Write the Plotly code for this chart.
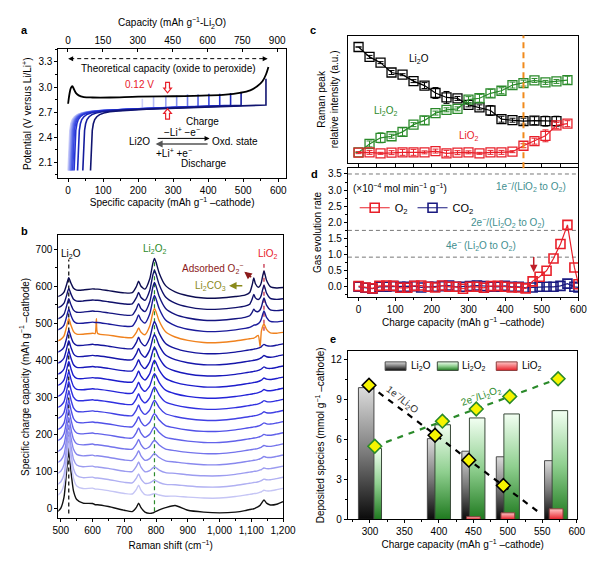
import plotly.graph_objects as go

W, H = 605, 562
FONT = "Liberation Sans, Arial, Helvetica, sans-serif"
RED = "#e8202a"
GREEN = "#2a8a2a"
TEAL = "#3f8f8f"
NAVY = "#1a1a80"

# ---------------- panel a : charge curves ----------------
a_black_cap = [0, 4, 8, 12, 16, 22, 30, 45, 70, 120, 200, 300, 400, 450, 490, 520, 540, 555, 565, 572]
a_black_v = [2.80, 2.92, 2.99, 3.01, 2.98, 2.93, 2.90, 2.88, 2.875, 2.875, 2.885, 2.89, 2.90, 2.91,
             2.93, 2.96, 3.01, 3.07, 3.15, 3.24]
a_start = [0, 2, 4, 6, 8, 10, 13, 17, 27, 42, 64]
a_end = [212, 244, 279, 310, 341, 371, 402, 433, 464, 494, 565]
a_end_v = [2.74, 2.75, 2.755, 2.76, 2.765, 2.77, 2.77, 2.775, 2.78, 2.78, 2.785]
a_top = [2.86, 2.88, 2.89, 2.90, 2.91, 2.91, 2.92, 2.92, 2.93, 2.94, 3.10]
a_knee_dx = [0, 1, 2, 3, 5, 8, 12, 18, 26, 38, 55, 80, 120, 160]
a_knee_v = [2.00, 2.12, 2.25, 2.36, 2.48, 2.56, 2.61, 2.645, 2.67, 2.69, 2.705, 2.715, 2.725, 2.735]
a_colors = ["#cdd0fa", "#b5bbf7", "#9ca4f4", "#8290f0", "#6a78ec", "#5060e6",
            "#3848e0", "#2534d4", "#1a26bc", "#141c9c", "#101470"]
a_gap_x = 284                     # capacity where the 0.12 V gap is marked
a_gap_arrow_down = [3.055, 2.93]  # tail, tip
a_gap_arrow_up = [2.615, 2.74]    # tail, tip

# ---------------- panel b : Raman spectra ----------------
b_cap = [0, 30, 60, 90, 120, 150, 180, 210, 240, 270, 300, 330, 360, 390, 420, 450, 480, 510, 540, 570]
b_colors = ["#111111", "#c5c5f5", "#b0b0f2", "#9c9cf0", "#8888ee", "#7474ec", "#6262ea", "#5050e8",
            "#4040e4", "#3030e0", "#2424d8", "#1c1ccc", "#1818bb", "#1616aa", "#14149c", "#f0821e",
            "#1a1a9a", "#141480", "#10106a", "#0c0c50"]
b_h_li2o = [160, 140, 125, 110, 98, 88, 80, 74, 69, 65, 62, 59, 57, 55, 53, 55, 50, 48, 46, 45]
b_h_745 = [28, 30, 30, 32, 32, 32, 33, 33, 34, 34, 35, 35, 35, 35, 35, 30, 35, 35, 35, 35]
b_h_li2o2 = [0, 10, 16, 22, 28, 34, 40, 46, 52, 58, 64, 70, 75, 80, 85, 90, 95, 100, 103, 105]
b_h_lio2 = [15, 6, 6, 6, 7, 7, 7, 8, 8, 8, 8, 9, 9, 10, 10, 35, 40, 45, 50, 58]
b_h_ads = [0, 0, 0, 0, 0, 0, 0, 0, 0, 0, 0, 0, 0, 0, 0, 0, 5, 18, 28, 42]
b_bg_common = {490: 0, 500: 2, 510: 4, 518: 6, 525: 8, 532: 10, 540: 12, 550: 14, 570: 18, 600: 22,
               608: 22, 612: 22, 616: 22, 650: 18, 700: 10, 725: 5, 738: 3, 745: 2, 752: 1, 765: 0,
               780: 0, 790: 0, 795: 0, 800: 0, 810: 0, 830: 0, 860: 2, 900: 0, 950: -2, 1000: -2,
               1050: 2, 1080: 6, 1095: 8, 1103: 9, 1108: 10, 1113: 10, 1122: 11, 1128: 12, 1132: 12,
               1140: 13, 1148: 14, 1160: 16, 1180: 20, 1200: 24}
b_bg_black = {490: -15, 500: -12, 510: -5, 518: 0, 525: 0, 532: 0, 540: 2, 550: 5, 570: 8, 600: 10,
              608: 10, 612: 10, 616: 10, 650: 5, 700: -5, 725: -12, 738: -14, 745: -14, 752: -14,
              765: -15, 780: -15, 790: -12, 795: -10, 800: -8, 810: -4, 830: 2, 860: 8, 900: -5,
              950: -10, 1000: -12, 1050: -10, 1080: -6, 1095: -3, 1103: -2, 1108: -1, 1113: 0,
              1122: 2, 1128: 4, 1132: 6, 1140: 8, 1148: 6, 1160: 6, 1180: 10, 1200: 18}
b_shape_li2o = {490: 0.04, 500: 0.08, 510: 0.22, 518: 0.62, 525: 1.0, 532: 0.62, 540: 0.28,
                550: 0.12, 570: 0.04, 600: 0.02}
b_shape_745 = {725: 0.12, 738: 0.6, 745: 1.0, 752: 0.6, 765: 0.18, 780: 0.06}
b_shape_li2o2 = {700: 0.02, 725: 0.03, 738: 0.05, 745: 0.06, 752: 0.08, 765: 0.15, 780: 0.45,
                 790: 0.88, 795: 1.0, 800: 0.9, 810: 0.62, 830: 0.3, 860: 0.12, 900: 0.04}
b_shape_lio2 = {1113: 0.06, 1122: 0.18, 1128: 0.3, 1132: 0.5, 1140: 1.0, 1148: 0.55,
                1160: 0.22, 1180: 0.09, 1200: 0.04}
b_shape_ads = {1095: 0.12, 1103: 0.6, 1108: 1.0, 1113: 0.55, 1122: 0.14, 1128: 0.05}
b_spike_orange = {612: 40, 1128: -35}
ORANGE_INDEX = 15

# ---------------- panel c : Raman peak intensities ----------------
c_cap_li2o = [0, 30, 60, 90, 120, 150, 180, 210, 240, 270, 300, 330, 360, 390, 420, 450, 480, 510, 540]
c_li2o = [118.5, 108.5, 102.7, 92.7, 90.5, 84, 79.5, 72, 67.5, 66.5, 60, 57.5, 54.3, 45.5, 44.5,
          43.5, 44, 43.5, 43.5]
c_li2o_err = [0, 1.5, 1, 2, 1, 1.5, 3, 5.5, 6, 2, 2, 2.5, 5, 3, 2, 3, 4, 5, 5]
c_cap = [0, 30, 60, 90, 120, 150, 180, 210, 240, 270, 300, 330, 360, 390, 420, 450, 480, 510, 540, 570]
c_li2o2 = [12, 20.5, 26.7, 28.3, 32.7, 40, 44.3, 51.7, 55, 56, 65.3, 66.7, 71.7, 74.3, 80, 82,
           84.7, 82.7, 83.7, 85]
c_li2o2_err = [0, 3, 5, 2, 4, 2, 4, 2, 2, 2, 3, 4, 4, 3, 3, 3, 2, 2, 2, 4]
c_lio2 = [11.7, 12, 11, 11.7, 12, 12, 12, 13.3, 11, 11.7, 12, 11, 12, 12, 12.7, 18.7, 23.3, 28.7,
          39.3, 41]
c_lio2_err = [1, 2, 1, 2, 3, 3, 1.5, 2, 3, 2, 1.5, 1, 2, 2, 1, 2, 3, 6, 3, 3]
c_marker_cap = 450

# ---------------- panel d : gas evolution ----------------
d_cap = [0, 19, 38, 57, 76, 95, 114, 133, 152, 171, 190, 209, 228, 247, 266, 285, 304, 323, 342,
         361, 380, 399, 418, 437, 456, 475, 494, 513, 532, 551, 570, 589, 600]
d_o2 = [0.02, -0.02, -0.05, 0.03, 0.04, 0.03, -0.03, -0.03, 0.03, 0.04, 0.0, -0.02, 0.04, 0.0, 0.0,
        -0.06, 0.0, 0.0, -0.03, 0.02, 0.03, 0.0, -0.02, -0.02, -0.05, 0.17, 0.31, 0.50, 0.88, 1.33,
        1.92, 0.60, 0.08]
d_co2 = [0.0, -0.03, -0.06, 0.0, 0.0, 0.02, 0.0, 0.0, 0.02, -0.02, 0.0, 0.0, 0.02, 0.04, 0.0, 0.0,
         0.02, 0.04, 0.02, 0.0, 0.0, 0.03, 0.0, 0.0, -0.03, -0.02, 0.0, 0.0, 0.0, 0.03, 0.1, 0.0, -0.02]
d_ref_levels = [3.5, 1.75, 0.92]
d_ref_labels = ["1e<sup>−</sup>/(LiO<sub>2</sub> to O<sub>2</sub>)",
                "2e<sup>−</sup>/(Li<sub>2</sub>O<sub>2</sub> to O<sub>2</sub>)",
                "4e<sup>−</sup> (Li<sub>2</sub>O to O<sub>2</sub>)"]
d_ref_label_x = [470, 408, 333]
d_ref_label_y = [3.12, 2.0, 1.28]

# ---------------- panel e : deposited species ----------------
e_cap = [300, 400, 450, 500, 570]
e_li2o = [9.87, 6.05, 5.11, 4.69, 4.4]
e_li2o2 = [5.31, 7.09, 7.6, 7.9, 8.15]
e_lio2 = [0, 0, 0.2, 0.49, 0.79]
e_1e_x = [298.6, 394.4, 443.4, 493.5]
e_1e_y = [10.05, 6.3, 4.44, 2.54]
e_2e_x = [307, 405.1, 454.2, 502.8, 572.9]
e_2e_y = [5.48, 7.36, 8.27, 9.21, 10.54]
e_1e_line_x = [298.6, 548]
e_1e_line_y = [10.05, 0.42]
e_2e_line_x = [307, 572.9]
e_2e_line_y = [5.48, 10.54]

GRAD_LI2O = [[0, "#0a0a0a"], [0.5, "#7a7a7a"], [1, "#dcdcdc"]]
GRAD_LI2O2 = [[0, "#1f7a1f"], [0.5, "#8fcf8f"], [1, "#f2fff2"]]
GRAD_LIO2 = [[0, "#e8202a"], [1, "#ffc8c8"]]


def xdom(p0, p1):
    return [p0 / W, p1 / W]


def ydom(top, bottom):
    return [1 - bottom / H, 1 - top / H]


fig = go.Figure()

# ---- panel a traces
for i in range(len(a_start)):
    xs, vs = [], []
    for dxk, vk in zip(a_knee_dx, a_knee_v):
        if a_start[i] + dxk < a_end[i] - 15:
            xs.append(a_start[i] + dxk)
            vs.append(vk)
    xs += [a_end[i], a_end[i]]
    vs += [a_end_v[i], a_top[i]]
    fig.add_trace(go.Scatter(x=xs, y=vs, mode="lines", line=dict(color=a_colors[i], width=1.6),
                             xaxis="x", yaxis="y", showlegend=False, hoverinfo="skip"))
fig.add_trace(go.Scatter(x=a_black_cap, y=a_black_v, mode="lines", line=dict(color="black", width=1.8, shape="spline"),
                         xaxis="x", yaxis="y", showlegend=False))
fig.add_trace(go.Scatter(x=[0, 900], y=[2.0, 2.0], mode="lines", line=dict(width=0), opacity=0,
                         xaxis="x2", yaxis="y", showlegend=False, hoverinfo="skip"))

# ---- panel b traces
shifts = list(b_bg_common.keys())
for i, cap in enumerate(b_cap):
    bg = b_bg_black if i == 0 else b_bg_common
    ys = []
    for s in shifts:
        v = cap + bg[s]
        v += b_h_li2o[i] * b_shape_li2o.get(s, 0)
        v += b_h_745[i] * b_shape_745.get(s, 0)
        v += b_h_li2o2[i] * b_shape_li2o2.get(s, 0)
        v += b_h_lio2[i] * b_shape_lio2.get(s, 0)
        v += b_h_ads[i] * b_shape_ads.get(s, 0)
        if i == ORANGE_INDEX:
            v += b_spike_orange.get(s, 0)
        ys.append(v)
    fig.add_trace(go.Scatter(x=shifts, y=ys, mode="lines",
                             line=dict(color=b_colors[i], width=1.4, shape="spline", smoothing=0.6),
                             xaxis="x3", yaxis="y3", showlegend=False, hoverinfo="skip"))


# ---- panel c traces
def c_trace(x, y, err, color):
    return go.Scatter(x=x, y=y, mode="lines+markers",
                      line=dict(color=color, width=1.2),
                      marker=dict(symbol="square-open", size=9, color=color, line=dict(width=1.3, color=color)),
                      error_y=dict(type="data", array=err, color=color, thickness=1, width=3),
                      xaxis="x4", yaxis="y4", showlegend=False)


fig.add_trace(c_trace(c_cap_li2o, c_li2o, c_li2o_err, "black"))
fig.add_trace(c_trace(c_cap, c_li2o2, c_li2o2_err, GREEN))
fig.add_trace(c_trace(c_cap, c_lio2, c_lio2_err, RED))

# ---- panel d traces
fig.add_trace(go.Scatter(x=d_cap, y=d_co2, mode="lines+markers", name="CO<sub>2</sub>",
                         line=dict(color=NAVY, width=1.2),
                         marker=dict(symbol="square-open", size=9, color=NAVY, line=dict(width=1.6, color=NAVY)),
                         xaxis="x5", yaxis="y5", legendrank=2, cliponaxis=True))
fig.add_trace(go.Scatter(x=d_cap, y=d_o2, mode="lines+markers", name="O<sub>2</sub>",
                         line=dict(color=RED, width=1.2),
                         marker=dict(symbol="square-open", size=9, color=RED, line=dict(width=1.6, color=RED)),
                         xaxis="x5", yaxis="y5", legendrank=1, cliponaxis=True))

# ---- panel e traces (gradient bars)
BAR_W = 22.5
RED_W = 20
OFF = 5.5


def bar(xc, h, width, grad, edge):
    x0, x1 = xc - width / 2, xc + width / 2
    return go.Scatter(x=[x0, x0, x1, x1, x0], y=[0, h, h, 0, 0], mode="lines", fill="toself",
                      fillgradient=dict(type="vertical", colorscale=grad),
                      line=dict(color=edge, width=1), xaxis="x6", yaxis="y6",
                      showlegend=False, hoverinfo="skip")


for c, h1, h2, h3 in zip(e_cap, e_li2o, e_li2o2, e_lio2):
    gray = bar(c - OFF, h1, BAR_W, GRAD_LI2O, "#4a4a4a")
    green = bar(c + OFF, h2, BAR_W, GRAD_LI2O2, "#3a4a3a")
    order = [green, gray] if h1 > h2 else [gray, green]
    for t in order:
        fig.add_trace(t)
    if h3 > 0:
        fig.add_trace(bar(c, h3, RED_W, GRAD_LIO2, "#8a3a3a"))

fig.add_trace(go.Scatter(x=e_1e_line_x, y=e_1e_line_y, mode="lines",
                         line=dict(color="black", width=2.2, dash="6px,6px"),
                         xaxis="x6", yaxis="y6", showlegend=False))
fig.add_trace(go.Scatter(x=e_2e_line_x, y=e_2e_line_y, mode="lines",
                         line=dict(color=GREEN, width=2.2, dash="6px,6px"),
                         xaxis="x6", yaxis="y6", showlegend=False))
fig.add_trace(go.Scatter(x=e_1e_x, y=e_1e_y, mode="markers",
                         marker=dict(symbol="diamond", size=10.5, color="#f6f400", line=dict(color="black", width=1.6)),
                         xaxis="x6", yaxis="y6", showlegend=False))
fig.add_trace(go.Scatter(x=e_2e_x, y=e_2e_y, mode="markers",
                         marker=dict(symbol="diamond", size=10.5, color="#f6f400", line=dict(color=GREEN, width=1.6)),
                         xaxis="x6", yaxis="y6", showlegend=False))

# e legend swatches (layout positions in data units of panel e)
e_leg_x0 = [322, 397.7, 483.2]
e_leg_x1 = [352.3, 428, 513.5]
e_leg_text_x = [356, 431, 517]
e_leg_labels = ["Li<sub>2</sub>O", "Li<sub>2</sub>O<sub>2</sub>", "LiO<sub>2</sub>"]
e_leg_grads = [GRAD_LI2O, GRAD_LI2O2, GRAD_LIO2]
e_leg_edges = ["#4a4a4a", "#3a4a3a", "#8a3a3a"]
for x0, x1, g, ec in zip(e_leg_x0, e_leg_x1, e_leg_grads, e_leg_edges):
    fig.add_trace(go.Scatter(x=[x0, x0, x1, x1, x0], y=[11.16, 11.8, 11.8, 11.16, 11.16], mode="lines",
                             fill="toself", fillgradient=dict(type="vertical", colorscale=g),
                             line=dict(color=ec, width=1), xaxis="x6", yaxis="y6",
                             showlegend=False, hoverinfo="skip"))

# ---------------- layout ----------------
tickfont = dict(size=10, family=FONT, color="black")
titlefont = dict(size=10, family=FONT, color="black")


def ax(**kw):
    base = dict(showline=True, linecolor="black", linewidth=1, mirror=True, ticks="outside",
                ticklen=3, tickwidth=1, tickcolor="black", showgrid=False, zeroline=False,
                tickfont=tickfont)
    base.update(kw)
    return base


annotations = []
shapes = []


def txt(x, y, t, xref, yref, size=10, color="black", family=FONT, **kw):
    d = dict(x=x, y=y, text=t, xref=xref, yref=yref, showarrow=False,
             font=dict(size=size, family=family, color=color))
    d.update(kw)
    annotations.append(d)


def arrow(x, y, ax_, ay_, xref, yref, color, width=1.0):
    annotations.append(dict(x=x, y=y, ax=ax_, ay=ay_, xref=xref, yref=yref, axref=xref, ayref=yref,
                            showarrow=True, arrowhead=2, arrowsize=1, arrowwidth=width,
                            arrowcolor=color, text=" ", font=dict(size=2)))


def hollow_arrow(xc, tail, tip):
    # hollow block arrow (outline only) in panel-a data units
    hw, sw = 11, 5.5
    neck = tip + (tail - tip) * 0.45
    path = ("M {a},{t} L {b},{t} L {b},{n} L {c},{n} L {x},{p} L {d},{n} L {a2},{n} Z"
            .format(a=xc - sw, b=xc + sw, t=tail, n=neck, c=xc + hw, x=xc, p=tip, d=xc - hw, a2=xc - sw))
    shapes.append(dict(type="path", xref="x", yref="y", path=path,
                       line=dict(color=RED, width=1.2), fillcolor="white"))


# panel letters
for lx, ly, lt in [(13, 22, "a"), (13, 233, "b"), (317, 22, "c"), (318, 168, "d"), (338, 343, "e")]:
    txt(lx / W, 1 - ly / H, "<b>%s</b>" % lt, "paper", "paper", size=11)

# panel a annotations
shapes.append(dict(type="line", xref="x", yref="y", x0=6, x1=562, y0=3.34, y1=3.34,
                   line=dict(color="black", width=1, dash="4px,3px")))
arrow(0, 3.34, 10, 3.34, "x", "y", "black")
arrow(570, 3.34, 558, 3.34, "x", "y", "black")
txt(288, 3.22, "Theoretical capacity (oxide to peroxide)", "x", "y", size=10)
txt(205, 3.03, "0.12 V", "x", "y", size=10, color=RED)
hollow_arrow(a_gap_x, a_gap_arrow_down[0], a_gap_arrow_down[1])
hollow_arrow(a_gap_x, a_gap_arrow_up[0], a_gap_arrow_up[1])
txt(385, 2.585, "Charge", "x", "y", size=10)
txt(325, 2.465, "−Li<sup>+</sup> −e<sup>−</sup>", "x", "y", size=10)
txt(205, 2.345, "Li2O", "x", "y", size=10)
txt(478, 2.345, "Oxd. state", "x", "y", size=10)
txt(302, 2.215, "+Li<sup>+</sup> +e<sup>−</sup>", "x", "y", size=10)
txt(387, 2.085, "Discharge", "x", "y", size=10)
arrow(404, 2.385, 250, 2.385, "x", "y", "black")
arrow(250, 2.318, 404, 2.318, "x", "y", "#555555", 1.4)

# panel b annotations
shapes.append(dict(type="line", xref="x3", yref="y3", x0=525, x1=525, y0=-14, y1=672,
                   line=dict(color="black", width=1.2, dash="4px,3px"), layer="below"))
shapes.append(dict(type="line", xref="x3", yref="y3", x0=795, x1=795, y0=-8, y1=672,
                   line=dict(color=GREEN, width=1.2, dash="4px,3px"), layer="below"))
shapes.append(dict(type="line", xref="x3", yref="y3", x0=1140, x1=1140, y0=480, y1=660,
                   line=dict(color="#c0203a", width=1.2, dash="4px,3px"), layer="below"))
txt(531, 688, "Li<sub>2</sub>O", "x3", "y3", size=10)
txt(795, 700, "Li<sub>2</sub>O<sub>2</sub>", "x3", "y3", size=10, color=GREEN)
txt(1153, 688, "LiO<sub>2</sub>", "x3", "y3", size=10, color=RED)
txt(977, 648, "Adsorbed O<sub>2</sub><sup>−</sup>", "x3", "y3", size=10, color="#8b1a1a")
txt(973, 601, "Li<sub>2</sub>CO<sub>3</sub>", "x3", "y3", size=10, color="#8a8a1a")
arrow(1078, 639, 1106, 620, "x3", "y3", "#8b1a1a", 1.5)
arrow(1030, 601, 1078, 601, "x3", "y3", "#8a8a1a", 1.5)

# panel c annotations
shapes.append(dict(type="line", xref="x4", yref="paper", x0=c_marker_cap, x1=c_marker_cap,
                   y0=1 - 170 / H, y1=1 - 36 / H, line=dict(color="#f08a1c", width=2, dash="6px,4px")))
txt(166, 106, "Li<sub>2</sub>O", "x4", "y4", size=10)
txt(73, 54, "Li<sub>2</sub>O<sub>2</sub>", "x4", "y4", size=10, color=GREEN)
txt(302, 29, "LiO<sub>2</sub>", "x4", "y4", size=10, color=RED)

# panel d annotations
for lvl in d_ref_levels:
    shapes.append(dict(type="line", xref="x5", yref="y5", x0=-29, x1=600, y0=lvl, y1=lvl,
                       line=dict(color="#777777", width=1, dash="4px,3px"), layer="below"))
for lx, ly, lt in zip(d_ref_label_x, d_ref_label_y, d_ref_labels):
    txt(lx, ly, lt, "x5", "y5", size=10, color=TEAL)
txt(113, 3.07, "(×10<sup>−4</sup> mol min<sup>−1</sup> g<sup>−1</sup>)", "x5", "y5", size=10)
arrow(478, 0.45, 478, 1.0, "x5", "y5", "#c0202a", 1.5)

# panel e annotations
for tx, tl in zip(e_leg_text_x, e_leg_labels):
    txt(tx, 11.5, tl, "x6", "y6", size=10, xanchor="left")
txt(348, 9.0, "1e<sup>−</sup>/Li<sub>2</sub>O", "x6", "y6", size=10, color="#333333", textangle=38)
txt(461, 9.3, "2e<sup>−</sup>/Li<sub>2</sub>O<sub>2</sub>", "x6", "y6", size=10, color=GREEN, textangle=-20)

fig.update_layout(
    width=W, height=H, margin=dict(l=0, r=0, t=0, b=0),
    paper_bgcolor="white", plot_bgcolor="white",
    font=dict(family=FONT, size=10, color="black"),
    showlegend=True,
    legend=dict(x=360 / W, y=1 - 210 / H, xanchor="left", yanchor="middle", orientation="h",
                font=dict(size=11, family=FONT), bgcolor="rgba(0,0,0,0)", itemwidth=30,
                traceorder="normal"),
    # panel a
    xaxis=ax(domain=xdom(54, 289), anchor="y", range=[-28, 622], tickvals=[0, 100, 200, 300, 400, 500, 600],
             minor=dict(dtick=50, ticks="outside", ticklen=2, tickcolor="black"),
             title=dict(text="Specific capacity (mAh g<sup>−1</sup> –cathode)", font=titlefont, standoff=3)),
    xaxis2=ax(overlaying="x", side="top", anchor="y", range=[-41.7, 937.5],
              tickvals=[0, 150, 300, 450, 600, 750, 900], mirror=False, ticks="inside",
              title=dict(text="Capacity (mAh g<sup>−1</sup>-Li<sub>2</sub>O)", font=titlefont, standoff=6)),
    yaxis=ax(domain=ydom(50, 180), anchor="x", range=[1.91, 3.45], tickvals=[2.1, 2.4, 2.7, 3.0, 3.3],
             ticktext=["2.1", "2.4", "2.7", "3.0", "3.3"],
             minor=dict(tickvals=[1.95, 2.25, 2.55, 2.85, 3.15, 3.45], ticks="outside", ticklen=2, tickcolor="black"),
             title=dict(text="Potential (V versus Li/Li<sup>+</sup>)", font=titlefont, standoff=4)),
    # panel b
    xaxis3=ax(domain=xdom(54, 286), anchor="y3", range=[492, 1200],
              tickvals=[500, 600, 700, 800, 900, 1000, 1100, 1200],
              ticktext=["500", "600", "700", "800", "900", "1,000", "1,100", "1,200"],
              minor=dict(dtick=50, ticks="outside", ticklen=2, tickcolor="black"),
              title=dict(text="Raman shift (cm<sup>−1</sup>)", font=titlefont, standoff=6)),
    yaxis3=ax(domain=ydom(238, 524), anchor="x3", range=[-27, 737], tickvals=[0, 100, 200, 300, 400, 500, 600, 700],
              minor=dict(dtick=50, ticks="outside", ticklen=2, tickcolor="black"),
              title=dict(text="Specific charge capacity (mAh g<sup>−1</sup> –cathode)", font=titlefont, standoff=4)),
    # panel c
    xaxis4=ax(domain=xdom(353, 591), anchor="y4", range=[-29, 600], dtick=50, tick0=0,
              showticklabels=False),
    yaxis4=ax(domain=ydom(36, 165), anchor="x4", range=[1, 130], ticks="", showticklabels=False,
              title=dict(text="Raman peak<br>relative intensity (a.u.)", font=titlefont, standoff=6)),
    # panel d
    xaxis5=ax(domain=xdom(353, 591), anchor="y5", range=[-29, 600], tickvals=[0, 100, 200, 300, 400, 500, 600],
              minor=dict(dtick=50, ticks="outside", ticklen=2, tickcolor="black"),
              title=dict(text="Charge capacity (mAh g<sup>−1</sup> –cathode)", font=titlefont, standoff=5)),
    yaxis5=ax(domain=ydom(170, 300), anchor="x5", range=[-0.31, 3.68],
              tickvals=[0, 0.5, 1.0, 1.5, 2.0, 2.5, 3.0, 3.5],
              ticktext=["0.0", "0.5", "1.0", "1.5", "2.0", "2.5", "3.0", "3.5"],
              minor=dict(dtick=0.25, ticks="outside", ticklen=2, tickcolor="black"),
              title=dict(text="Gas evolution rate", font=titlefont, standoff=4)),
    # panel e
    xaxis6=ax(domain=xdom(353, 590), anchor="y6", range=[268, 601], tickvals=[300, 350, 400, 450, 500, 550, 600],
              minor=dict(dtick=25, ticks="outside", ticklen=2, tickcolor="black"),
              title=dict(text="Charge capacity (mAh g<sup>−1</sup> –cathode)", font=titlefont, standoff=4)),
    yaxis6=ax(domain=ydom(355, 525), anchor="x6", range=[0, 12.6], tickvals=[0, 3, 6, 9, 12],
              minor=dict(dtick=1.5, ticks="outside", ticklen=2, tickcolor="black"),
              title=dict(text="Deposited species (mmol g<sup>−1</sup> –cathode)", font=titlefont, standoff=4)),
    annotations=annotations,
    shapes=shapes,
)

fig.write_html("out.html")
